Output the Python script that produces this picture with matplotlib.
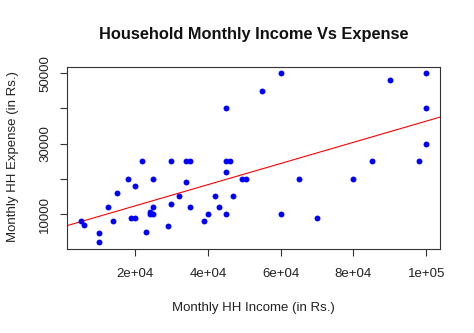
import numpy as np
import matplotlib
matplotlib.use("Agg")
import matplotlib.pyplot as plt

plt.rcParams['font.family'] = ['Liberation Sans', 'DejaVu Sans']

# monthly household income / expense (Rs.)
income = [5000, 6000, 10000, 10000, 12500, 14000, 15000, 18000, 19000, 20000,
          20000, 22000, 23000, 24000, 24000, 25000, 25000, 25000, 29000, 30000,
          30000, 32000, 34000, 34000, 35000, 35000, 39000, 40000, 42000, 43000,
          45000, 45000, 45000, 46000, 45000, 47000, 49500, 50500, 55000, 60000,
          60000, 65000, 70000, 80000, 85000, 90000, 98000, 100000, 100000, 100000]
expense = [8000, 7000, 4500, 2000, 12000, 8000, 16000, 20000, 9000, 9000,
           18000, 25000, 5000, 10500, 10000, 10000, 12000, 20000, 6500, 13000,
           25000, 15000, 19000, 25000, 25000, 12000, 8000, 10000, 15000, 12000,
           10000, 22000, 25000, 25000, 40000, 15000, 20000, 20000, 45000, 50000,
           10000, 20000, 9000, 20000, 25000, 48000, 25000, 50000, 40000, 30000]

xticks = [20000, 40000, 60000, 80000, 100000]
xticklabels = ['2e+04', '4e+04', '6e+04', '8e+04', '1e+05']
yticks = [10000, 20000, 30000, 40000, 50000]
yticklabels = ['10000', '', '30000', '', '50000']

x = np.array(income, dtype=float)
y = np.array(expense, dtype=float)
slope, intercept = np.polyfit(x, y, 1)

fig = plt.figure(figsize=(4.74, 3.33), dpi=100)
ax = fig.add_axes([0.1407, 0.2523, 0.7876, 0.548])

# R-style 4% range extension
xr = x.max() - x.min()
yr = y.max() - y.min()
xlim = (x.min() - 0.04 * xr, x.max() + 0.04 * xr)
ylim = (y.min() - 0.04 * yr, y.max() + 0.04 * yr)

ax.scatter(x, y, s=18, color='#0000ff', linewidths=0, zorder=3)
xx = np.array(xlim)
ax.plot(xx, intercept + slope * xx, color='#ff0000', lw=0.8, zorder=2)
ax.set_xlim(*xlim)
ax.set_ylim(*ylim)

ax.set_xticks(xticks)
ax.set_xticklabels(xticklabels)
ax.set_yticks(yticks)
ax.set_yticklabels(yticklabels, rotation=90, va='center')
ax.tick_params(direction='out', length=5, width=0.8, colors='#333333',
               labelcolor='#222222', labelsize=9.5, pad=6)
ax.tick_params(axis='x', pad=9)
for sp in ax.spines.values():
    sp.set_color('#333333')
    sp.set_linewidth(0.8)

fig.text(0.535, 0.897, 'Household Monthly Income Vs Expense', ha='center',
         va='center', fontsize=11.8, fontweight='bold', color='#111111')
fig.text(0.535, 0.075, 'Monthly HH Income (in Rs.)', ha='center', va='center',
         fontsize=9.5, color='#222222')
fig.text(0.027, 0.53, 'Monthly HH Expense (in Rs.)', ha='center', va='center',
         rotation=90, fontsize=9.5, color='#222222')

fig.savefig('out.png', dpi=100)
